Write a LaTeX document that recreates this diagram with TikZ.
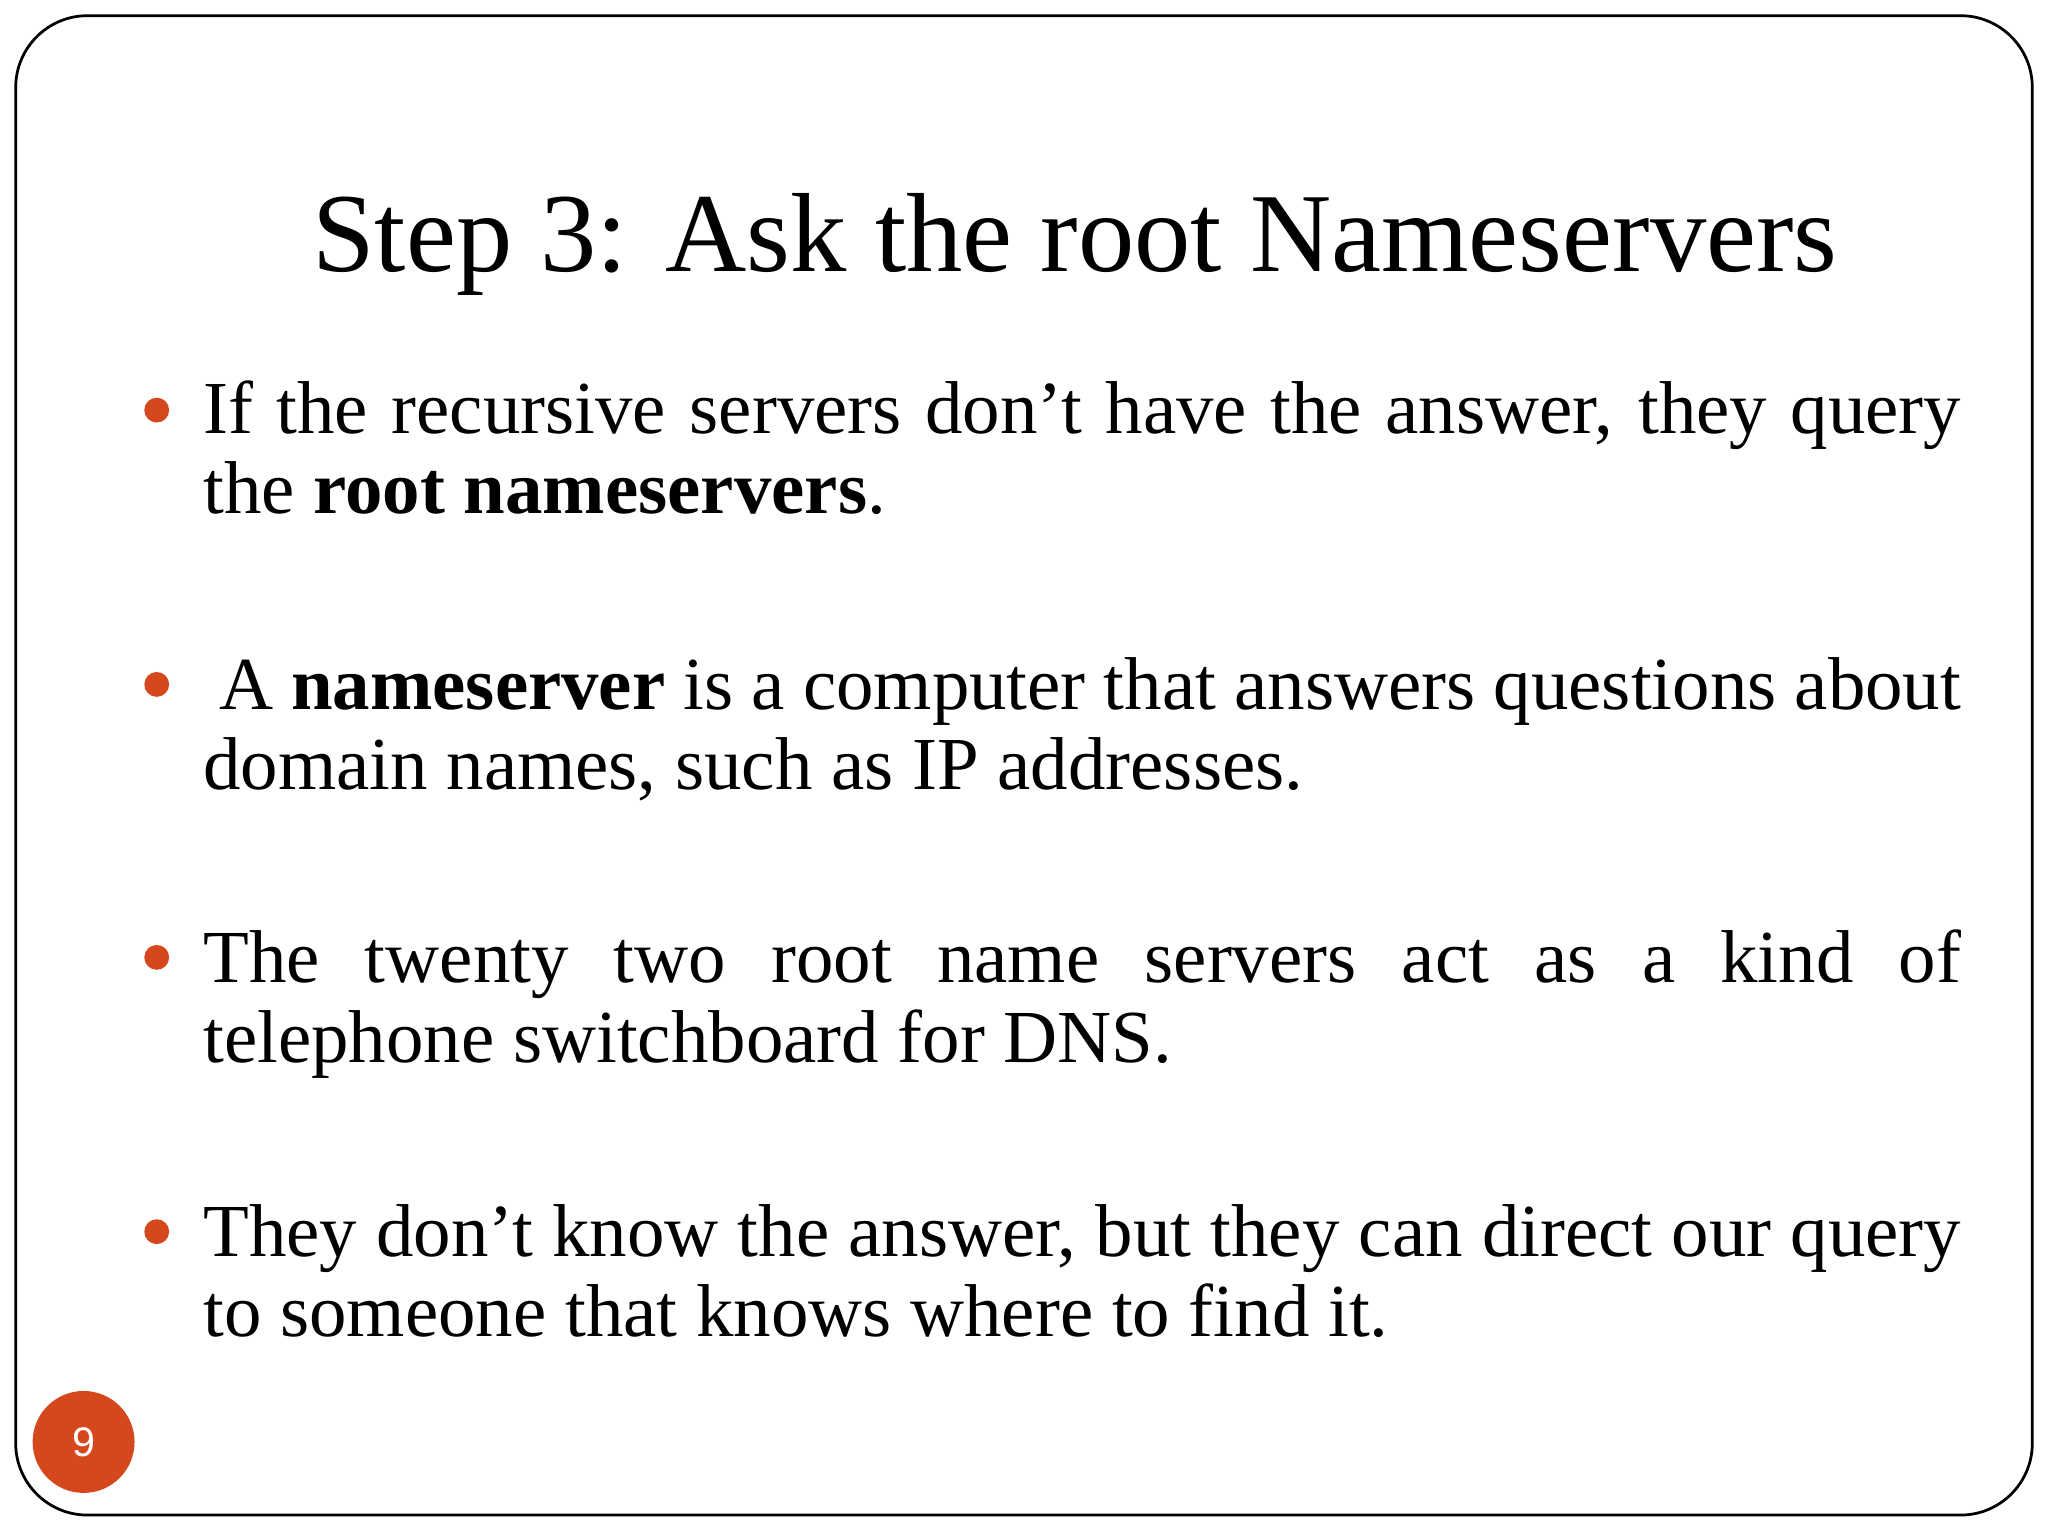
\documentclass[tikz,border=0pt]{standalone}
\usepackage{fontspec}
\setmainfont{Liberation Serif}
\newfontfamily\numfont{Liberation Sans}
\definecolor{accent}{HTML}{D5481E}
\begin{document}
\begin{tikzpicture}[x=0.01cm,y=-0.01cm,
  bodytext/.style={anchor=base west,inner sep=0pt,text width=13.45cm,align=justify,font=\fontsize{16.3}{17.4}\selectfont},
  bulletdot/.style={circle,fill=accent,inner sep=0pt,minimum size=0.19cm}]
\useasboundingbox (0,0) rectangle (1568,1176);
\fill[white] (0,0) rectangle (1568,1176);
\draw[line width=0.6pt,rounded corners=0.55cm] (12,12) rectangle (1556,1160);
\node[anchor=base,inner sep=0pt,font=\fontsize{24.5}{28}\selectfont] (title) at (823,208) {Step 3: Ask the root Nameservers};
\node[bulletdot] (b1) at (120,314) {};
\node[bodytext] (t1) at (155,332) {If the recursive servers don’t have the answer, they query the \textbf{root nameservers}.};
\node[bulletdot] (b2) at (120,524) {};
\node[bodytext] (t2) at (155,543) {\hspace{0.12cm}A \textbf{nameserver} is a computer that answers questions about domain names, such as IP addresses.};
\node[bulletdot] (b3) at (120,733) {};
\node[bodytext] (t3) at (155,752) {The twenty two root name servers act as a kind of\linebreak telephone switchboard for DNS.};
\node[bulletdot] (b4) at (120,943) {};
\node[bodytext] (t4) at (155,962) {They don’t know the answer, but they can direct our query to someone that knows where to find it.};
\node[circle,fill=accent,minimum size=0.78cm,inner sep=0pt,text=white,font=\numfont\fontsize{9}{10}\selectfont] (num) at (64,1104) {9};
\end{tikzpicture}
\end{document}
